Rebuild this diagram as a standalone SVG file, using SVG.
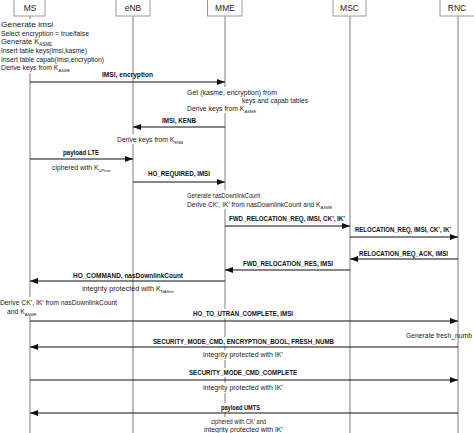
<svg xmlns="http://www.w3.org/2000/svg" width="474" height="433" viewBox="0 0 474 433">
<style>
.life{stroke:#a9a9a9;stroke-width:1.5;fill:none}
.box{fill:#fff;stroke:#9a9a9a;stroke-width:1}
.hd{font-family:"Liberation Sans",Arial,sans-serif;font-size:8.5px;fill:#222;text-anchor:middle}
.n{font-family:"Liberation Sans",Arial,sans-serif;font-size:7.5px;fill:#222}
.ns{font-family:"Liberation Sans",Arial,sans-serif;font-size:6.8px;fill:#222}
.b{font-family:"Liberation Sans",Arial,sans-serif;font-size:7.5px;font-weight:bold;fill:#111}
.bg{fill:#fff}
.msg{stroke:#111;stroke-width:1.2;fill:none;marker-end:url(#ah)}
.sub{font-size:4.2px;baseline-shift:-1.5px}
</style>
<defs>
<marker id="ah" markerUnits="userSpaceOnUse" markerWidth="9" markerHeight="7" refX="8" refY="3" orient="auto">
<path d="M0,0 L8,3 L0,6 z" fill="#111"/>
</marker>
</defs>
<rect width="474" height="433" fill="#fff"/>
<g id="MS"><line class="life" x1="30" y1="16" x2="30" y2="433"/><rect class="box" x="14" y="-1" width="31" height="17"/><text class="hd" x="30" y="11">MS</text></g>
<g id="eNB"><line class="life" x1="133" y1="16" x2="133" y2="433"/><rect class="box" x="116" y="-1" width="34" height="17"/><text class="hd" x="133" y="11">eNB</text></g>
<g id="MME"><line class="life" x1="225" y1="16" x2="225" y2="433"/><rect class="box" x="207.5" y="-1" width="34.5" height="17"/><text class="hd" x="225" y="11">MME</text></g>
<g id="MSC"><line class="life" x1="350" y1="16" x2="350" y2="433"/><rect class="box" x="333" y="-1" width="33" height="17"/><text class="hd" x="349.5" y="11">MSC</text></g>
<g id="RNC"><line class="life" x1="458" y1="16" x2="458" y2="433"/><rect class="box" x="440" y="-1" width="35" height="17"/><text class="hd" x="457" y="11">RNC</text></g>
<g id="notes">
<rect class="bg" x="0" y="19" width="106" height="54"/>
<text class="n" x="1" y="27" textLength="52" lengthAdjust="spacingAndGlyphs">Generate imsi</text>
<text class="n" x="1" y="35.5" textLength="88" lengthAdjust="spacingAndGlyphs">Select encryption = true/false</text>
<text class="n" x="1" y="44">Generate K<tspan class="sub" style="font-size:4.5px">ASME</tspan></text>
<text class="n" x="1" y="53" textLength="86" lengthAdjust="spacingAndGlyphs">Insert table keys(imsi,kasme)</text>
<text class="n" x="1" y="61.5" textLength="103" lengthAdjust="spacingAndGlyphs">Insert table capab(imsi,encryption)</text>
<text class="ns" x="1" y="70">Derive keys from K<tspan class="sub">ASME</tspan></text>
<rect class="bg" x="186" y="87" width="123" height="26"/>
<text class="n" x="187" y="95" textLength="90" lengthAdjust="spacingAndGlyphs">Get (kasme, encryption) from</text>
<text class="n" x="242" y="103" textLength="66" lengthAdjust="spacingAndGlyphs">keys and capab tables</text>
<text class="ns" x="187" y="111">Derive keys from K<tspan class="sub">ASME</tspan></text>
<rect class="bg" x="116" y="134" width="66" height="10"/>
<text class="ns" x="117" y="142">Derive keys from K<tspan class="sub">ENB</tspan></text>
<text class="ns" x="52" y="170">ciphered with K<tspan class="sub">UPenc</tspan></text>
<rect class="bg" x="186" y="190" width="147" height="19"/>
<text class="n" x="187" y="198" textLength="73" lengthAdjust="spacingAndGlyphs">Generate nasDownlinkCount</text>
<text class="ns" x="187" y="207" style="font-size:6.6px">Derive CK’, IK’ from nasDownlinkCount and K<tspan class="sub">ASME</tspan></text>
<text class="ns" x="82" y="291" style="font-size:7.2px">integrity protected with K<tspan class="sub">NASint</tspan></text>
<rect class="bg" x="0" y="297" width="118" height="19"/>
<text class="n" x="0" y="305" textLength="117" lengthAdjust="spacingAndGlyphs">Derive CK’, IK’ from nasDownlinkCount</text>
<text class="ns" x="7" y="314">and K<tspan class="sub">ASME</tspan></text>
<text class="n" x="472" y="338" style="text-anchor:end;font-size:7px" textLength="66" lengthAdjust="spacingAndGlyphs">Generate fresh_numb</text>
<rect class="bg" x="202" y="350" width="82" height="10"/>
<text class="n" x="203" y="357" textLength="80" lengthAdjust="spacingAndGlyphs">integrity protected with IK’</text>
<rect class="bg" x="202" y="383" width="82" height="10"/>
<text class="n" x="203" y="390" textLength="80" lengthAdjust="spacingAndGlyphs">integrity protected with IK’</text>
<rect class="bg" x="203" y="417" width="81" height="16"/>
<text class="n" x="211" y="424" textLength="55" lengthAdjust="spacingAndGlyphs" style="font-size:7px">ciphered with CK’ and</text>
<text class="n" x="204" y="432" textLength="79" lengthAdjust="spacingAndGlyphs" style="font-size:7px">integrity protected with IK’</text>
</g>
<g id="connectors">
<line class="msg" x1="30" y1="82" x2="225" y2="82"/>
<line class="msg" x1="225" y1="127" x2="133" y2="127"/>
<line class="msg" x1="30" y1="159" x2="133" y2="159"/>
<line class="msg" x1="133" y1="182" x2="225" y2="182"/>
<line class="msg" x1="225" y1="226" x2="350" y2="226"/>
<line class="msg" x1="350" y1="237" x2="458" y2="237"/>
<line class="msg" x1="458" y1="259" x2="350" y2="259"/>
<line class="msg" x1="350" y1="270" x2="225" y2="270"/>
<line class="msg" x1="225" y1="281" x2="30" y2="281"/>
<line class="msg" x1="30" y1="321" x2="458" y2="321"/>
<line class="msg" x1="458" y1="347" x2="30" y2="347"/>
<line class="msg" x1="30" y1="380" x2="458" y2="380"/>
<line class="msg" x1="458" y1="413" x2="30" y2="413"/>
</g>
<g id="labels">
<text class="b" x="102" y="77" textLength="51" lengthAdjust="spacingAndGlyphs">IMSI, encryption</text>
<text class="b" x="162" y="123" textLength="34" lengthAdjust="spacingAndGlyphs">IMSI, KENB</text>
<text class="b" x="63" y="155" textLength="36" lengthAdjust="spacingAndGlyphs">payload LTE</text>
<text class="b" x="148" y="176" textLength="62" lengthAdjust="spacingAndGlyphs">HO_REQUIRED, IMSI</text>
<text class="b" x="229" y="221" textLength="116" lengthAdjust="spacingAndGlyphs">FWD_RELOCATION_REQ, IMSI, CK’, IK’</text>
<text class="b" x="355" y="232" textLength="96" lengthAdjust="spacingAndGlyphs">RELOCATION_REQ, IMSI, CK’, IK’</text>
<text class="b" x="359" y="256" textLength="89" lengthAdjust="spacingAndGlyphs">RELOCATION_REQ_ACK, IMSI</text>
<text class="b" x="243" y="266" textLength="90" lengthAdjust="spacingAndGlyphs">FWD_RELOCATION_RES, IMSI</text>
<text class="b" x="73" y="278" textLength="110" lengthAdjust="spacingAndGlyphs">HO_COMMAND, nasDownlinkCount</text>
<rect class="bg" x="192" y="309" width="102" height="9"/>
<text class="b" x="193" y="316" textLength="100" lengthAdjust="spacingAndGlyphs">HO_TO_UTRAN_COMPLETE, IMSI</text>
<rect class="bg" x="152" y="337" width="183" height="9"/>
<text class="b" x="153" y="344" textLength="181" lengthAdjust="spacingAndGlyphs">SECURITY_MODE_CMD, ENCRYPTION_BOOL, FRESH_NUMB</text>
<rect class="bg" x="188" y="368" width="110" height="9"/>
<text class="b" x="189" y="375" textLength="108" lengthAdjust="spacingAndGlyphs">SECURITY_MODE_CMD_COMPLETE</text>
<rect class="bg" x="220" y="403" width="41" height="9"/>
<text class="b" x="221" y="410" textLength="39" lengthAdjust="spacingAndGlyphs">payload UMTS</text>
</g>
</svg>
